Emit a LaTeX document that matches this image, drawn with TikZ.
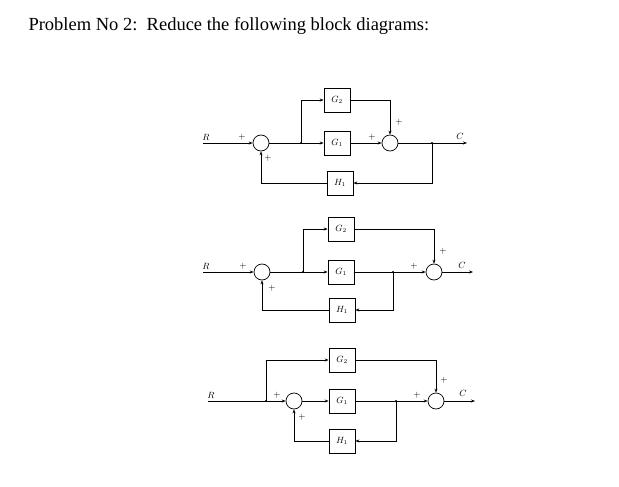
\documentclass[tikz,border=0pt]{standalone}
\usepackage{fontspec}
\newfontfamily\titlefont{Liberation Serif}
\usetikzlibrary{arrows.meta}
\begin{document}
\begin{tikzpicture}[x=1pt,y=-1pt,
  blk/.style={draw,fill=white,line width=0.7pt,minimum width=26pt,minimum height=24pt,inner sep=0pt,font=\fontsize{9}{9}\selectfont},
  sm/.style={draw,circle,line width=0.7pt,minimum size=16pt,inner sep=0pt},
  dotp/.style={circle,fill,inner sep=0.8pt},
  sig/.style={-{Stealth[length=4pt,width=3pt]},line width=0.7pt},
  ln/.style={line width=0.7pt},
  lab/.style={font=\fontsize{9}{9}\selectfont}]
\useasboundingbox (0,0) rectangle (619,487);
\node[anchor=west,font=\titlefont\fontsize{18.5}{18.5}\selectfont] (title) at (25,26) {Problem No 2:\ \ Reduce the following block diagrams:};

% ---- Diagram 1
\coordinate (r1) at (203,143);
\node[sm] (s11) at (261,143) {};
\coordinate (b11) at (301,143);
\node[blk] (g21) at (337,100) {$G_2$};
\node[blk] (g11) at (337,143) {$G_1$};
\node[sm] (s12) at (390,143) {};
\coordinate (b12) at (432,143);
\coordinate (c1) at (467,143);
\node[blk] (h11) at (340,183) {$H_1$};
\draw[sig] (r1) -- (s11.west);
\draw[ln] (s11.east) -- (b11);
\draw[sig] (b11) -- (g11.west);
\draw[sig] (b11) |- (g21.west);
\draw[sig] (g11.east) -- (s12.west);
\draw[sig] (g21.east) -| (s12.north);
\draw[sig] (s12.east) -- (c1);
\draw[sig] (b12) |- (h11.east);
\draw[sig] (h11.west) -| (s11.south);
\node[dotp] (d11) at (b11) {}; \node[dotp] (d12) at (b12) {};
\node[lab] (lr1) at (206,137) {$R$};
\node[lab] (lc1) at (460,136) {$C$};
\node[lab] (p11) at (242,137) {$+$};
\node[lab] (p12) at (268,158) {$+$};
\node[lab] (p13) at (372,137) {$+$};
\node[lab] (p14) at (399,122) {$+$};

% ---- Diagram 2
\coordinate (r2) at (203,272);
\node[sm] (s21) at (262,272) {};
\coordinate (b21) at (303,272);
\node[blk] (g22) at (341,229) {$G_2$};
\node[blk] (g12) at (341,272) {$G_1$};
\coordinate (b22) at (393,272);
\node[sm] (s22) at (434,272) {};
\coordinate (c2) at (473,272);
\node[blk] (h12) at (342,310) {$H_1$};
\draw[sig] (r2) -- (s21.west);
\draw[ln] (s21.east) -- (b21);
\draw[sig] (b21) -- (g12.west);
\draw[sig] (b21) |- (g22.west);
\draw[sig] (g12.east) -- (s22.west);
\draw[sig] (g22.east) -| (s22.north);
\draw[sig] (s22.east) -- (c2);
\draw[sig] (b22) |- (h12.east);
\draw[sig] (h12.west) -| (s21.south);
\node[dotp] (d21) at (b21) {}; \node[dotp] (d22) at (b22) {};
\node[lab] (lr2) at (206,266) {$R$};
\node[lab] (lc2) at (462,265) {$C$};
\node[lab] (p21) at (243,266) {$+$};
\node[lab] (p22) at (272,288) {$+$};
\node[lab] (p23) at (414,266) {$+$};
\node[lab] (p24) at (443,251) {$+$};

% ---- Diagram 3
\coordinate (r3) at (208,401);
\coordinate (b31) at (266,401);
\node[sm] (s31) at (294,401) {};
\node[blk] (g23) at (342,360) {$G_2$};
\node[blk] (g13) at (342,401) {$G_1$};
\coordinate (b32) at (396,401);
\node[sm] (s32) at (436,401) {};
\coordinate (c3) at (475,401);
\node[blk] (h13) at (342,441) {$H_1$};
\draw[ln] (r3) -- (b31);
\draw[sig] (b31) -- (s31.west);
\draw[sig] (b31) |- (g23.west);
\draw[sig] (s31.east) -- (g13.west);
\draw[sig] (g13.east) -- (s32.west);
\draw[sig] (g23.east) -| (s32.north);
\draw[sig] (s32.east) -- (c3);
\draw[sig] (b32) |- (h13.east);
\draw[sig] (h13.west) -| (s31.south);
\node[dotp] (d31) at (b31) {}; \node[dotp] (d32) at (b32) {};
\node[lab] (lr3) at (211,395) {$R$};
\node[lab] (lc3) at (463,393) {$C$};
\node[lab] (p31) at (277,395) {$+$};
\node[lab] (p32) at (302,417) {$+$};
\node[lab] (p33) at (417,395) {$+$};
\node[lab] (p34) at (444,380) {$+$};
\end{tikzpicture}
\end{document}
